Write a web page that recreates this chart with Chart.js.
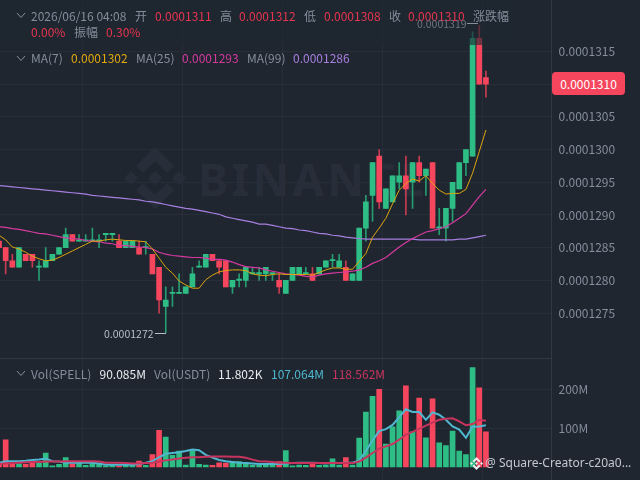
<!DOCTYPE html>
<html>
<head>
<meta charset="utf-8">
<script src="https://cdn.jsdelivr.net/npm/chart.js@4"></script>
<style>
html,body{margin:0;padding:0;background:#1f2630;width:640px;height:480px;overflow:hidden}
body{font-family:"Noto Sans CJK SC","Noto Sans",sans-serif;font-size:12px;color:#848e9c}
#wm{position:absolute;left:198px;top:149px;font:700 45px "Noto Sans",sans-serif;letter-spacing:3.5px;color:#282e39;line-height:60px;white-space:nowrap;z-index:0}
#wmlogo{position:absolute;left:124px;top:147px;width:62px;height:62px;z-index:0}
canvas{position:absolute;left:0;top:0;z-index:1}
#veil{position:absolute;left:0;top:0;width:512px;height:45px;background:rgba(31,38,48,.62);z-index:2}
.t{position:absolute;white-space:nowrap;line-height:16px;z-index:3}
.r{color:#e8354f}.w{color:#eaecef}.g{color:#848e9c}
.s{position:absolute;z-index:3}
#tag{position:absolute;left:552px;top:72px;width:73px;height:23px;border-radius:4px;background:#f6465d;color:#fff;text-align:center;line-height:23px;z-index:3}
</style>
</head>
<body>
<svg id="wmlogo" viewBox="0 0 126.61 126.61"><path fill="#282e39" d="M38.73 53.2l24.59-24.58 24.6 24.6 14.3-14.31L63.32 0 24.43 38.9zM0 63.31l14.3-14.31 14.31 14.31L14.3 77.61zM38.73 73.41l24.59 24.59 24.6-24.6 14.31 14.29L63.32 126.61 24.42 87.72l-.02-.02zM98.01 63.31l14.3-14.3 14.31 14.3-14.3 14.31zM77.83 63.3L63.32 48.78 52.59 59.51l-1.24 1.23-2.54 2.54 14.51 14.5L77.83 63.3z"/></svg>
<div id="wm">BINANCE</div>
<canvas id="c" width="640" height="480"></canvas>
<div id="veil"></div>

<svg class="s" style="left:16px;top:12px" width="10" height="7"><polyline points="1,1 5,5.5 9,1" fill="none" stroke="#848e9c" stroke-width="1"/></svg>
<span class="t g" style="left:31px;top:8px">2026/06/16 04:08</span>
<span class="t g" style="left:135px;top:8px">开</span><span class="t r" style="left:155px;top:8px">0.0001311</span>
<span class="t g" style="left:220px;top:8px">高</span><span class="t r" style="left:239px;top:8px">0.0001312</span>
<span class="t g" style="left:304px;top:8px">低</span><span class="t r" style="left:324px;top:8px">0.0001308</span>
<span class="t g" style="left:389px;top:8px">收</span><span class="t r" style="left:408px;top:8px">0.0001310</span>
<span class="t g" style="left:473px;top:8px">涨跌幅</span>
<span class="t r" style="left:31px;top:24px">0.00%</span><span class="t g" style="left:74px;top:24px">振幅</span><span class="t r" style="left:106px;top:24px">0.30%</span>

<svg class="s" style="left:16px;top:55px" width="10" height="7"><polyline points="1,1 5,5.5 9,1" fill="none" stroke="#848e9c" stroke-width="1"/></svg>
<span class="t g" style="left:31px;top:50px">MA(7)</span><span class="t" style="left:71px;top:50px;color:#e2a90c">0.0001302</span>
<span class="t g" style="left:136px;top:50px">MA(25)</span><span class="t" style="left:182px;top:50px;color:#d63a9f">0.0001293</span>
<span class="t g" style="left:247px;top:50px">MA(99)</span><span class="t" style="left:293px;top:50px;color:#a77fe0">0.0001286</span>

<svg class="s" style="left:16px;top:370px" width="10" height="7"><polyline points="1,1 5,5.5 9,1" fill="none" stroke="#848e9c" stroke-width="1"/></svg>
<span class="t g" style="left:31px;top:366px">Vol(SPELL)</span><span class="t w" style="left:99.5px;top:366px">90.085M</span>
<span class="t g" style="left:154px;top:366px">Vol(USDT)</span><span class="t w" style="left:218px;top:366px">11.802K</span>
<span class="t" style="left:271px;top:366px;color:#4fb7cf">107.064M</span><span class="t" style="left:332px;top:366px;color:#c9345f">118.562M</span>

<div id="tag">0.0001310</div>
<span class="t" style="left:417px;top:16px;color:#6d7480;font-size:10.5px">0.0001319</span>
<div class="s" style="left:467px;top:23px;width:11px;height:1px;background:#848e9c"></div>
<span class="t" style="left:104px;top:326px;color:#b7bdc6;font-size:10.5px">0.0001272</span>
<div class="s" style="left:155px;top:333px;width:11px;height:1px;background:#b7bdc6"></div>

<svg class="s" style="left:470px;top:457px" width="13" height="13" viewBox="0 0 126.61 126.61"><path fill="#eaecef" d="M38.73 53.2l24.59-24.58 24.6 24.6 14.3-14.31L63.32 0 24.43 38.9zM0 63.31l14.3-14.31 14.31 14.31L14.3 77.61zM38.73 73.41l24.59 24.59 24.6-24.6 14.31 14.29L63.32 126.61 24.42 87.72l-.02-.02zM98.01 63.31l14.3-14.3 14.31 14.3-14.3 14.31zM77.83 63.3L63.32 48.78 52.59 59.51l-1.24 1.23-2.54 2.54 14.51 14.5L77.83 63.3z"/></svg>
<span class="t" style="left:485px;top:455px;color:#c3c7ce;font-size:12px;font-family:'Noto Sans',sans-serif">@ Square-Creator-c20a0...</span>

<script>
// Prices are in units of 0.0000001
const PRICE_UNIT = 1e-7;
const open  = [1286,1285,1283,1282,1284,1284,1282,1282,1283,1284,1285,1287,1286,1286,1286,1286,1287,1287,1286,1285,1285,1285,1285,1284,1282,1276,1278,1278,1278,1279,1282,1282,1284,1283,1283,1279,1280,1280,1281,1281,1281,1281,1280,1278,1280,1281,1281,1281,1281,1282,1283,1282,1282,1280,1280,1288,1293,1299,1291,1292,1295,1296,1295,1298,1296,1298,1288,1288,1291,1294,1298,1299,1317,1311];
const high  = [1286,1285,1284,1285,1284,1284,1283,1285,1284,1285,1288,1287,1287,1287,1288,1287,1287,1287,1287,1286,1286,1286,1286,1284,1282,1279,1279,1281,1279,1282,1283,1284,1284,1283,1283,1280,1281,1282,1282,1282,1282,1281,1281,1280,1282,1282,1282,1282,1282,1283,1284,1284,1283,1281,1288,1293,1298,1300,1294,1296,1298,1299,1298,1299,1297,1298,1291,1291,1295,1298,1300,1318,1319,1312];
const low   = [1285,1281,1282,1282,1283,1282,1280,1282,1283,1284,1285,1286,1286,1286,1286,1285,1286,1286,1285,1285,1285,1284,1284,1281,1275,1272,1276,1278,1278,1279,1282,1282,1283,1281,1279,1278,1279,1279,1281,1280,1280,1280,1278,1278,1280,1281,1281,1280,1281,1282,1282,1282,1280,1280,1280,1286,1289,1291,1291,1292,1294,1290,1291,1295,1293,1288,1287,1286,1289,1294,1296,1299,1310,1308];
const close = [1285,1283,1282,1285,1283,1283,1282,1283,1284,1285,1287,1286,1286,1286,1286,1286,1287,1287,1285,1286,1286,1284,1285,1281,1277,1277,1278,1278,1279,1281,1282,1284,1283,1282,1279,1280,1280,1282,1281,1281,1282,1281,1279,1280,1282,1282,1281,1280,1282,1283,1283,1283,1280,1281,1288,1292,1298,1292,1294,1296,1296,1294,1298,1296,1297,1288,1288,1291,1295,1298,1300,1317,1310,1310];
const ma7   = [1286.9,1286.2,1285.1,1284.8,1284.3,1283.7,1283.3,1283.0,1283.1,1283.5,1284.0,1284.5,1285.0,1285.5,1286.0,1286.0,1286.2,1286.3,1286.2,1286.1,1286.1,1286.0,1285.9,1284.8,1283.4,1282.0,1281.1,1279.9,1279.3,1278.8,1278.8,1280.1,1280.8,1281.3,1281.5,1281.6,1281.6,1281.5,1281.0,1280.8,1280.7,1280.9,1281.0,1280.9,1280.9,1280.9,1280.9,1280.8,1281.2,1281.6,1281.9,1281.9,1281.7,1281.7,1282.9,1284.1,1286.6,1288.0,1289.5,1291.7,1293.8,1294.8,1295.5,1295.2,1296.0,1294.8,1293.8,1293.2,1293.3,1293.3,1293.9,1296.4,1299.7,1303.0];
const ma25  = [1288.2,1288.1,1287.9,1287.8,1287.6,1287.4,1287.2,1287.1,1286.9,1286.7,1286.5,1286.4,1286.3,1286.1,1286.0,1285.9,1285.7,1285.6,1285.3,1285.3,1285.2,1285.1,1285.0,1284.8,1284.3,1284.0,1283.8,1283.7,1283.6,1283.5,1283.5,1283.4,1283.2,1283.2,1283.1,1282.8,1282.4,1282.1,1282.0,1281.9,1281.6,1281.4,1281.2,1281.0,1280.9,1280.8,1280.6,1280.5,1280.8,1281.0,1281.1,1281.2,1281.3,1281.4,1281.6,1282.0,1282.6,1283.0,1283.5,1284.3,1285.1,1285.8,1286.4,1286.9,1287.4,1287.6,1287.9,1288.2,1288.8,1289.5,1290.2,1291.5,1292.8,1293.9];
const ma99  = [1294.5,1294.4,1294.3,1294.2,1294.1,1294.0,1293.9,1293.8,1293.7,1293.6,1293.5,1293.4,1293.3,1293.2,1293.0,1292.9,1292.8,1292.7,1292.6,1292.5,1292.4,1292.3,1292.1,1292.0,1291.8,1291.6,1291.4,1291.2,1291.0,1290.9,1290.7,1290.5,1290.3,1290.1,1289.7,1289.5,1289.3,1289.1,1288.9,1288.6,1288.6,1288.4,1288.2,1288.0,1287.9,1287.7,1287.6,1287.4,1287.2,1287.1,1286.9,1286.8,1286.6,1286.5,1286.4,1286.3,1286.3,1286.3,1286.3,1286.3,1286.3,1286.3,1286.3,1286.2,1286.2,1286.2,1286.2,1286.2,1286.2,1286.3,1286.3,1286.5,1286.7,1286.9];
// Volume in millions
const vol   = [7,70,7,8,7,11,11,36,3,7,24,8,14,4,14,7,3,6,3,5,4,15,4,32,94,77,30,41,5,42,7,5,4,11,10,14,14,11,5,4,4,5,14,42,3,5,4,8,4,4,21,5,24,5,74,141,181,199,59,103,144,208,90,177,75,175,62,55,92,41,32,255,203,90];
const volMa7  = [11,15,15,15,16,18,19,22,15,14,11,11,11,11,11,9,6,6,6,6,6,8,11,15,25,34,36,38,41,45,43,31,24,18,15,13,11,10,9,8,8,8,8,9,10,11,11,11,10,9,11,10,11,11,17,41,68,92,97,108,128,148,141,141,121,140,134,121,104,96,75,103,104,107];
const volMa25 = [8,9,10,11,12,13,13,14,14,14,15,15,15,15,15,14,11,11,11,10,9,9,10,11,14,17,19,22,24,25,25,26,27,27,27,26,26,24,19,15,14,13,11,11,10,10,10,10,10,10,10,10,10,10,14,24,36,47,53,59,70,83,90,98,106,114,121,124,125,117,107,110,121,118.6];
const priceTicks = [1275,1280,1285,1290,1295,1300,1305,1310,1315];
const volTicks = [100,200];
const gridIndex = [5,20,35,50,65,80];

const UP = '#2ebd85', DOWN = '#f6465d', GRID = '#282e39';
const WICK_UP = '#269c70', WICK_DOWN = '#c73c50';
const idx = open.map((_, i) => i);
const isUp = i => close[i] >= open[i];
const colours = idx.map(i => isUp(i) ? UP : DOWN);
const wickColours = idx.map(i => isUp(i) ? WICK_UP : WICK_DOWN);

const volPaneTop = 279.5, volPaneBottom = -33.3;
const fitRight = s => { s.width = 88.5; s.paddingTop = 0; s.paddingBottom = 0; s.paddingLeft = 0; s.paddingRight = 0; };

new Chart(document.getElementById('c'), {
  type: 'bar',
  data: {
    datasets: [
      {label:'MA(7)',  type:'line', order:1, yAxisID:'y', xAxisID:'x', data: idx.map(i=>({x:i,y:ma7[i]})),  borderColor:'#dca50f', borderWidth:1, pointRadius:0},
      {label:'MA(25)', type:'line', order:1, yAxisID:'y', xAxisID:'x', data: idx.map(i=>({x:i,y:ma25[i]})), borderColor:'#d63a9f', borderWidth:1.2, pointRadius:0},
      {label:'MA(99)', type:'line', order:1, yAxisID:'y', xAxisID:'x', data: idx.map(i=>({x:i,y:ma99[i]})), borderColor:'#a77fe0', borderWidth:1.2, pointRadius:0},
      {label:'Body', order:2, yAxisID:'y', xAxisID:'x', data: idx.map(i=>({x:i,y:[open[i],close[i]]})), backgroundColor:colours, barThickness:5, minBarLength:1.2},
      {label:'Wick', order:3, yAxisID:'y', xAxisID:'x', data: idx.map(i=>({x:i,y:[low[i],high[i]]})), backgroundColor:wickColours, barThickness:1},
      {label:'VolMA7', type:'line', order:4, yAxisID:'v', xAxisID:'x', data: idx.map(i=>({x:i,y:volMa7[i]})), borderColor:'#4fb7cf', borderWidth:2, pointRadius:0},
      {label:'VolMA25', type:'line', order:3.5, yAxisID:'v', xAxisID:'x', data: idx.map(i=>({x:i,y:volMa25[i]})), borderColor:'#c9345f', borderWidth:2, pointRadius:0},
      {label:'Vol', order:5, yAxisID:'v', xAxisID:'x', data: idx.map(i=>({x:i,y:vol[i]})), backgroundColor:colours, barThickness:5}
    ]
  },
  options: {
    responsive:false, animation:false, devicePixelRatio:1,
    layout:{padding:0, autoPadding:false},
    plugins:{legend:{display:false},tooltip:{enabled:false}},
    datasets:{bar:{grouped:false}},
    scales:{
      x:{type:'linear', min:0.15, max:82.83, offset:false,
         afterBuildTicks:a=>{a.ticks=gridIndex.map(v=>({value:v}));},
         afterFit:s=>{s.height=0; s.paddingLeft=0; s.paddingRight=0; s.paddingTop=0; s.paddingBottom=0;},
         ticks:{display:false}, border:{display:false},
         grid:{color:GRID, drawTicks:false}},
      v:{type:'linear', position:'right', stack:'panes', stackWeight:122, weight:1,
         min:volPaneBottom, max:volPaneTop,
         afterBuildTicks:a=>{a.ticks=volTicks.concat([volPaneTop]).map(v=>({value:v}));},
         afterFit:fitRight,
         ticks:{color:'#848e9c', padding:7, font:{family:'"Noto Sans CJK SC","Noto Sans"',size:12},
                callback:v=>volTicks.includes(v)?v+'M':''},
         grid:{color:c=>c.tick.value===volPaneTop?'#323844':GRID, drawTicks:false},
         border:{display:true,color:'#323844'}},
      y:{type:'linear', position:'right', stack:'panes', stackWeight:358, weight:0,
         min:1268.13, max:1322.87,
         afterBuildTicks:a=>{a.ticks=priceTicks.map(v=>({value:v}));},
         afterFit:fitRight,
         ticks:{color:'#848e9c', padding:7, font:{family:'"Noto Sans CJK SC","Noto Sans"',size:12},
                callback:v=>(v*PRICE_UNIT).toFixed(7)},
         grid:{color:GRID, drawTicks:false},
         border:{display:true,color:'#323844'}}
    }
  }
});
</script>
</body>
</html>
